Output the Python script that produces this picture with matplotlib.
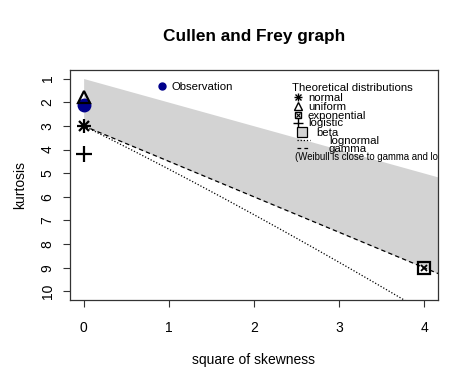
import numpy as np
import matplotlib
matplotlib.use("Agg")
import matplotlib.pyplot as plt

plt.rcParams['font.family'] = ['Liberation Sans', 'DejaVu Sans']

# ---- data ----
obs_skew2 = [0.0]
obs_kurt = [2.12]
normal_pt = (0.0, 3.0)
uniform_pt = (0.0, 1.8)
logistic_pt = (0.0, 4.2)
exponential_pt = (4.0, 9.0)
xticks = [0, 1, 2, 3, 4]
yticks = [1, 2, 3, 4, 5, 6, 7, 8, 9, 10]
legend_labels = ["normal", "uniform", "exponential", "logistic", "beta", "lognormal", "gamma"]

# theoretical curves
s2 = np.linspace(0, 5, 400)
beta_upper = s2 + 1.0          # kurtosis lower bound (skew^2 + 1)
gamma_k = 3.0 + 1.5 * s2       # gamma line
w = np.linspace(1.0, 1.45, 400)
lnorm_s2 = (w + 2) ** 2 * (w - 1)
lnorm_k = w ** 4 + 2 * w ** 3 + 3 * w ** 2 - 3

W, H = 474, 389
fig = plt.figure(figsize=(W / 100, H / 100), dpi=100)
L, R, T, B = 70, 438, 70, 300
ax = fig.add_axes([L / W, 1 - B / H, (R - L) / W, (B - T) / H])

ax.fill_between(s2, beta_upper, gamma_k, color='#D3D3D3', lw=0, zorder=1)
ax.plot(lnorm_s2, lnorm_k, color='black', ls=(0, (1, 1.5)), lw=0.9, zorder=2)
ax.plot(s2, gamma_k, color='black', ls=(0, (3.5, 2.5)), lw=0.9, zorder=2)

ax.plot(obs_skew2, obs_kurt, 'o', color='#00008B', ms=9, zorder=4)
ax.plot(*uniform_pt, '^', mfc='none', mec='black', mew=1.6, ms=9, zorder=5)
ax.plot(*normal_pt, '+', color='black', mew=1.6, ms=10, zorder=5)
ax.plot(*normal_pt, 'x', color='black', mew=1.6, ms=7, zorder=5)
ax.plot(*logistic_pt, '+', color='black', mew=1.6, ms=11, zorder=5)
ax.plot(*exponential_pt, 's', mfc='none', mec='black', mew=1.6, ms=8, zorder=5)
ax.plot(*exponential_pt, 'x', color='black', mew=1.3, ms=5, zorder=5)

ax.set_xlim(-0.16, 4.16)
ax.set_ylim(10.36, 0.64)
ax.set_xticks(xticks)
ax.set_xticklabels([str(v) for v in xticks], fontsize=10)
ax.set_yticks(yticks)
ax.set_yticklabels([str(v) for v in yticks], fontsize=10, rotation=90, va='center')
ax.tick_params(axis='both', direction='out', length=5, width=0.8, color='#333333')
ax.tick_params(axis='x', pad=10)
ax.tick_params(axis='y', pad=6)
for sp in ax.spines.values():
    sp.set_linewidth(0.9)
    sp.set_color('#333333')

ax.set_xlabel("square of skewness", fontsize=10, va='center')
ax.xaxis.set_label_coords(0.5, (B - 360) / (B - T))
ax.set_ylabel("kurtosis", fontsize=10, va='center')
ax.yaxis.set_label_coords((20 - L) / (R - L), 0.5)
fig.text((L + R) / 2 / W, 1 - 36 / H, "Cullen and Frey graph", fontsize=12.4,
         fontweight='bold', ha='center', va='center')

def fx(px):
    return (px - L) / (R - L)

def fy(py):
    return (B - py) / (B - T)

tr = ax.transAxes
lfs = 8.2
# Observation legend
ax.plot([fx(162)], [fy(86)], 'o', color='#00008B', ms=5, transform=tr, clip_on=False)
ax.text(fx(171), fy(86.5), "Observation", fontsize=lfs, va='center', ha='left', transform=tr)

# Theoretical legend
ax.text(fx(292), fy(88), "Theoretical distributions", fontsize=lfs, va='center', ha='left', transform=tr)
ys = [98, 107, 115.7, 123.5, 132.5, 140.5, 148.5]
xs_text = [308, 308, 308, 308, 316, 329, 329]
for lab, y, xt in zip(legend_labels, ys, xs_text):
    ax.text(fx(xt), fy(y), lab, fontsize=lfs, va='center', ha='left', transform=tr)
sx = 297.5
ax.plot([fx(sx)], [fy(97)], '+', color='black', mew=1.0, ms=6, transform=tr)
ax.plot([fx(sx)], [fy(97)], 'x', color='black', mew=1.0, ms=4.5, transform=tr)
ax.plot([fx(sx)], [fy(106)], '^', mfc='none', mec='black', mew=1.0, ms=5.5, transform=tr)
ax.plot([fx(sx)], [fy(114.5)], 's', mfc='none', mec='black', mew=1.0, ms=4.5, transform=tr)
ax.plot([fx(sx)], [fy(114.5)], 'x', color='black', mew=0.8, ms=3, transform=tr)
ax.plot([fx(sx)], [fy(123)], '+', color='black', mew=1.0, ms=7, transform=tr)
ax.plot([fx(302)], [fy(132)], 's', mfc='#D3D3D3', mec='black', mew=0.9, ms=6.5, transform=tr)
ax.plot([fx(297), fx(310)], [fy(140), fy(140)], color='black', ls=(0, (1, 1.5)), lw=0.9, transform=tr)
ax.plot([fx(297), fx(310)], [fy(148), fy(148)], color='black', ls=(0, (3, 2.5)), lw=0.9, transform=tr)
ax.text(fx(295), fy(156.5), "(Weibull is close to gamma and lognormal)", fontsize=6.9,
        va='center', ha='left', transform=tr, clip_on=True)

fig.savefig("out.png", dpi=100)
